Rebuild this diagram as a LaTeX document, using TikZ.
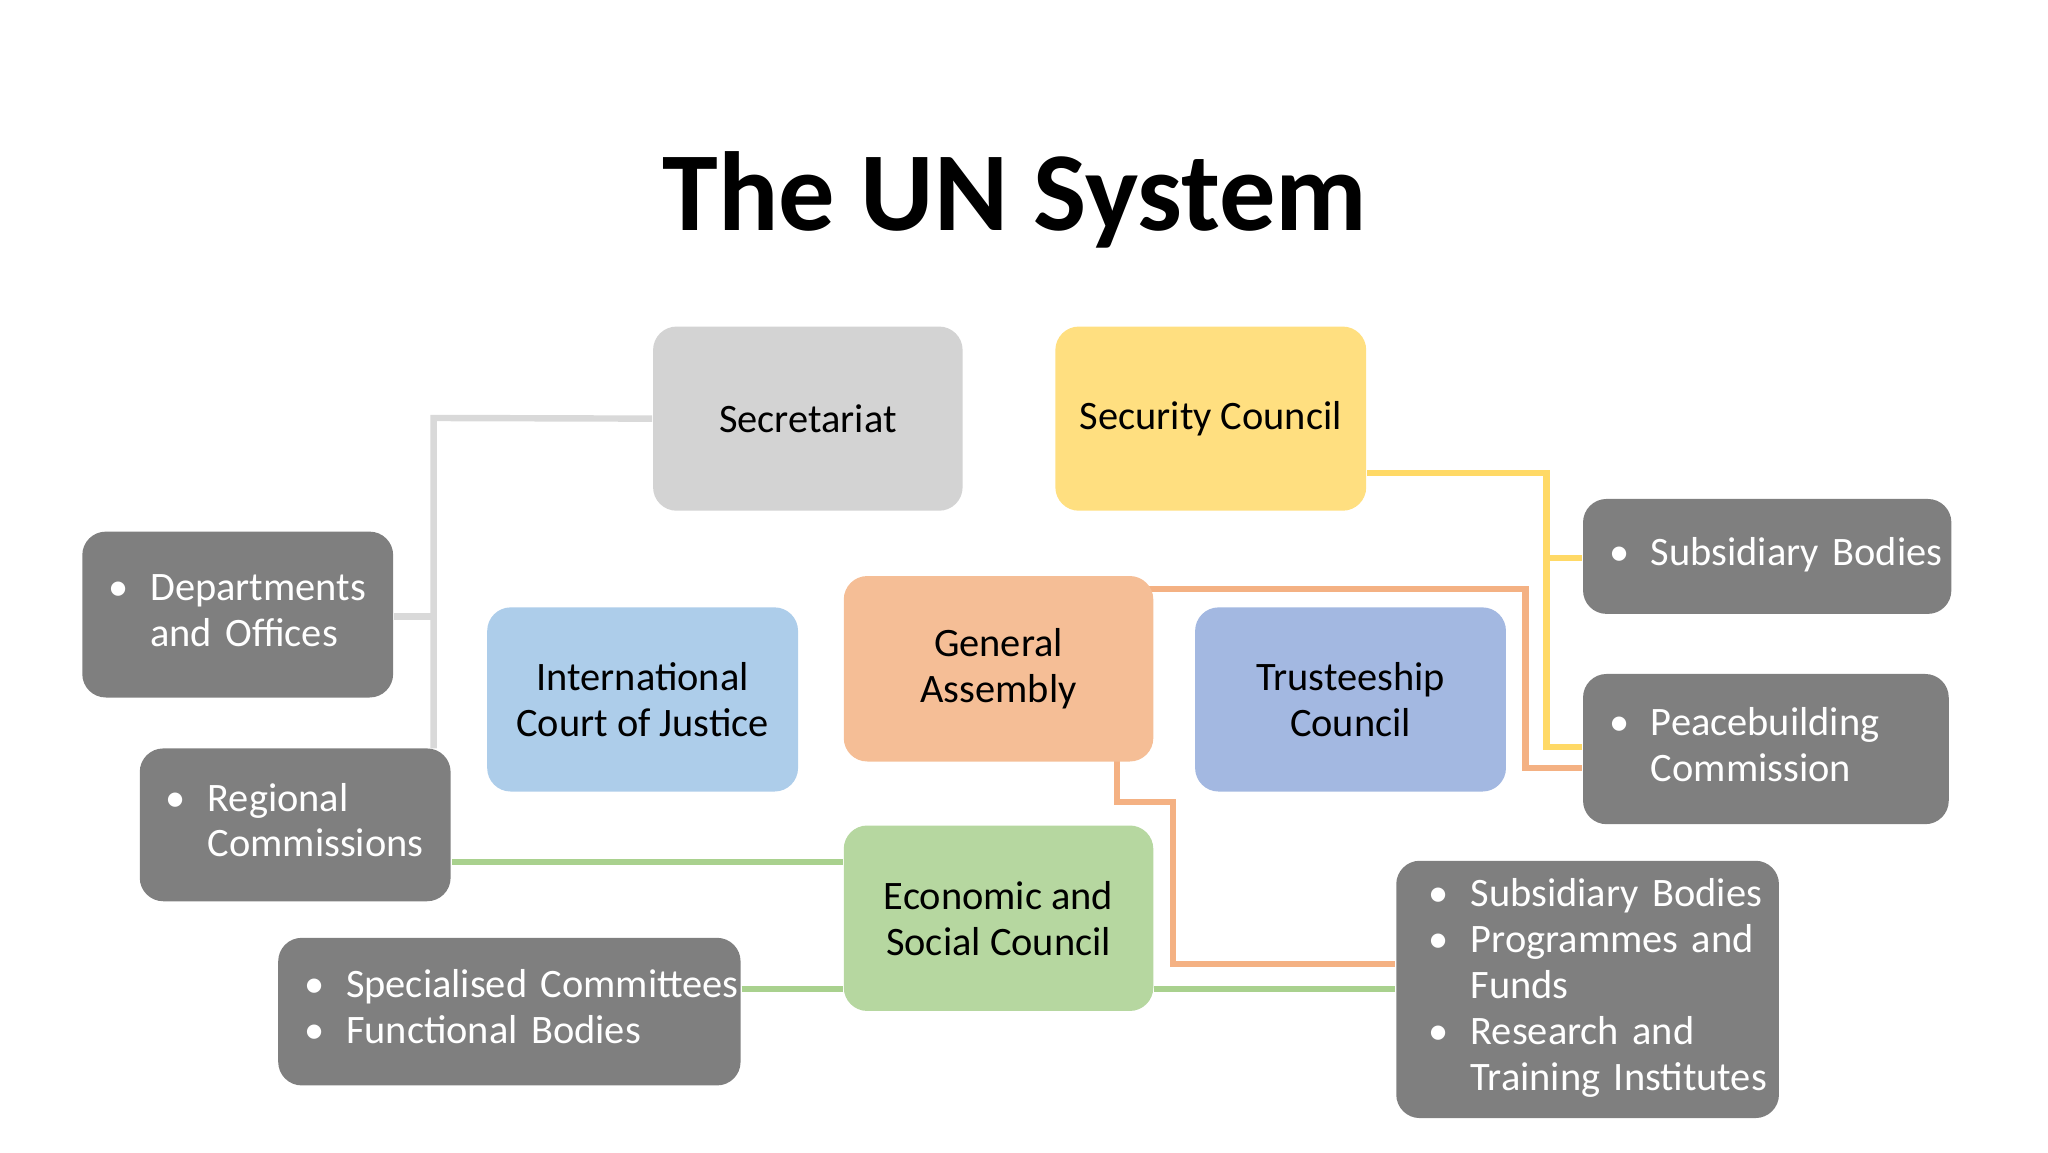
\documentclass[tikz,border=0pt]{standalone}
\usepackage{fontspec}
\setmainfont{Carlito}
\usetikzlibrary{backgrounds}
\definecolor{boxgray}{HTML}{7F7F7F}
\definecolor{secgray}{HTML}{D3D3D3}
\definecolor{secyel}{HTML}{FFDF80}
\definecolor{icjblue}{HTML}{ADCDEA}
\definecolor{gaorange}{HTML}{F5BE96}
\definecolor{trblue}{HTML}{A3B8E1}
\definecolor{ecogreen}{HTML}{B6D7A0}
\definecolor{lgray}{HTML}{D9D9D9}
\definecolor{lyel}{HTML}{FFD966}
\definecolor{lorange}{HTML}{F4B183}
\definecolor{lgreen}{HTML}{A9D18E}
\tikzset{
  organ/.style={rounded corners=0.18cm, inner sep=0pt, align=center, font=\fontsize{8.8}{10}\selectfont},
  sub/.style={rounded corners=0.18cm, fill=boxgray, text=white, inner xsep=0.2cm, inner ysep=0pt, align=left, font=\fontsize{8.8}{10}\selectfont},
  conn/.style={line width=1.4pt},
}
\newcommand{\blist}[1]{\begin{tabular}{@{}p{0.32cm}@{}l@{}}#1\end{tabular}}
\begin{document}
\begin{tikzpicture}
\useasboundingbox (0,0) rectangle (15.68,-8.82);
\node[font=\bfseries\fontsize{24.5}{28}\selectfont] (title) at (7.77,-1.53) {The UN System};
\node[organ, fill=secgray, minimum width=2.37cm, minimum height=1.41cm] (sec) at (6.185,-3.205) {Secretariat};
\node[organ, fill=secyel, minimum width=2.38cm, minimum height=1.41cm] (scn) at (9.27,-3.205) {Security Council};
\node[organ, fill=icjblue, minimum width=2.38cm, minimum height=1.41cm] (icj) at (4.92,-5.355) {International\\Court of Justice};
\node[organ, fill=gaorange, minimum width=2.37cm, minimum height=1.42cm] (ga) at (7.645,-5.12) {General\\Assembly};
\node[organ, fill=trblue, minimum width=2.38cm, minimum height=1.41cm] (tru) at (10.34,-5.355) {Trusteeship\\Council};
\node[organ, fill=ecogreen, minimum width=2.37cm, minimum height=1.42cm] (eco) at (7.645,-7.03) {Economic and\\Social Council};
\node[sub, text width=1.98cm, minimum height=1.27cm] (dep) at (1.82,-4.705) {\blist{• & Departments\\ & and Offices}};
\node[sub, text width=1.98cm, minimum height=1.17cm] (reg) at (2.26,-6.315) {\blist{• & Regional\\ & Commissions}};
\node[sub, text width=3.14cm, minimum height=1.13cm] (spc) at (3.9,-7.745) {\blist{• & Specialised Committees\\ • & Functional Bodies}};
\node[sub, text width=2.42cm, minimum height=0.88cm] (ssb) at (13.53,-4.26) {\blist{• & Subsidiary Bodies}};
\node[sub, text width=2.4cm, minimum height=1.15cm] (pbc) at (13.52,-5.735) {\blist{• & Peacebuilding\\ & Commission}};
\node[sub, inner xsep=0.25cm, text width=2.43cm, minimum height=1.97cm] (gsb) at (12.155,-7.575) {\blist{• & Subsidiary Bodies\\ • & Programmes and\\ & Funds\\ • & Research and\\ & Training Institutes}};
\begin{scope}[on background layer]
\coordinate (g1) at (3.32,-3.2);
\coordinate (g2) at (3.32,-4.72);
\coordinate (g3) at (3.32,-5.73);
\draw[conn, lgray] (sec.west) -- (g1) -- (g3);
\draw[conn, lgray] (g2) -- (dep.east |- g2);
\coordinate (y1) at (11.84,-3.62);
\coordinate (y2) at (11.84,-5.72);
\coordinate (y3) at (11.84,-4.27);
\draw[conn, lyel] (scn.east |- y1) -- (y1) -- (y2) -- (pbc.west |- y2);
\draw[conn, lyel] (y3) -- (ssb.west |- y3);
\coordinate (o0) at (8.76,-4.51);
\coordinate (o1) at (11.68,-4.51);
\coordinate (o2) at (11.68,-5.88);
\draw[conn, lorange] (o0) -- (o1) -- (o2) -- (pbc.west |- o2);
\coordinate (o3) at (8.55,-5.72);
\coordinate (o4) at (8.55,-6.14);
\coordinate (o5) at (8.98,-6.14);
\coordinate (o6) at (8.98,-7.38);
\draw[conn, lorange] (o3) -- (o4) -- (o5) -- (o6) -- (gsb.west |- o6);
\coordinate (e1) at (0,-6.6);
\coordinate (e2) at (0,-7.57);
\draw[conn, lgreen] (reg.east |- e1) -- (eco.west |- e1);
\draw[conn, lgreen] (spc.east |- e2) -- (eco.west |- e2);
\draw[conn, lgreen] (eco.east |- e2) -- (gsb.west |- e2);
\end{scope}
\end{tikzpicture}
\end{document}
